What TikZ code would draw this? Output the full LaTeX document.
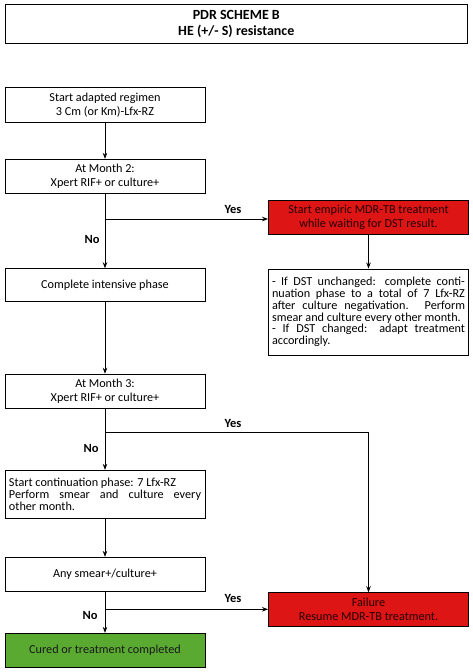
\documentclass[tikz,border=0pt]{standalone}
\usepackage{fontspec}
\setmainfont{Carlito}
\usetikzlibrary{arrows.meta,calc}
\definecolor{redbox}{RGB}{221,21,21}
\definecolor{greenbox}{RGB}{90,170,50}
\tikzset{
  box/.style={draw=black, line width=0.9pt, minimum width=200, inner sep=0pt, align=center, font=\fontsize{12.2}{14}\selectfont},
  redb/.style={box, fill=redbox, text=black!85!red},
  greenb/.style={box, fill=greenbox, text=black!90},
  arr/.style={line width=0.8pt, -{Stealth[length=6pt,width=4.5pt]}},
  lbl/.style={font=\fontsize{12.5}{14}\selectfont\bfseries, inner sep=0pt}
}
\begin{document}
\begin{tikzpicture}[x=1pt,y=-1pt]
\useasboundingbox[fill=white] (0,0) rectangle (473,672);
\node[box, minimum width=462.7, minimum height=39, font=\fontsize{14}{15.5}\selectfont\bfseries] (title) at (236.3,23.8) {PDR SCHEME B\\HE (+/- S) resistance};
\node[box, minimum height=35] (b1) at (105,104.8) {Start adapted regimen\\3 Cm (or Km)-Lfx-RZ};
\node[box, minimum height=34] (b2) at (105,176.3) {At Month 2:\\Xpert RIF+ or culture+};
\node[box, minimum height=33] (b3) at (105,285.2) {Complete intensive phase};
\node[box, minimum height=34] (b4) at (105,391.2) {At Month 3:\\Xpert RIF+ or culture+};
\node[box, minimum height=48, text width=192, align=justify, font=\fontsize{12.2}{12.3}\selectfont] (b5) at (105,494.3) {Start continuation phase: 7 Lfx-RZ\newline Perform smear and culture every\linebreak other month.};
\node[box, minimum height=34] (b6) at (105,574.3) {Any smear+/culture+};
\node[greenb, minimum height=34] (b7) at (105,650.3) {Cured or treatment completed};
\node[redb, minimum height=33.3] (r1) at (368.5,217.3) {Start empiric MDR-TB treatment\\while waiting for DST result.};
\node[box, minimum height=86, text width=193, align=justify, font=\fontsize{12.2}{11.7}\selectfont] (t1) at (368.5,312) {- If DST unchanged: complete conti-\linebreak nuation phase to a total of 7 Lfx-RZ\linebreak after culture negativation. Perform\linebreak smear and culture every other month.\newline - If DST changed: adapt treatment\linebreak accordingly.};
\node[redb, minimum height=33.6] (fail) at (368.5,609.5) {Failure\\Resume MDR-TB treatment.};
\coordinate (j1) at (105,219);
\coordinate (j2) at (105,432.3);
\coordinate (j3) at (105,609.3);
\draw[arr] (b1) -- (b2);
\draw[arr] (b2) -- (b3);
\draw[arr] (j1) -- (j1 -| r1.west);
\draw[arr] (r1) -- (t1);
\draw[arr] (b3) -- (b4);
\draw[arr] (b4) -- (b5);
\draw[arr] (j2) -| (fail.north);
\draw[arr] (b5) -- (b6);
\draw[arr] (b6) -- (b7);
\draw[arr] (j3) -- (j3 -| fail.west);
\node[lbl] (y1) at (233,209) {Yes};
\node[lbl] (n1) at (92,239.5) {No};
\node[lbl] (y2) at (233,423) {Yes};
\node[lbl] (n2) at (91,448) {No};
\node[lbl] (y3) at (233,598.5) {Yes};
\node[lbl] (n3) at (90,615.5) {No};
\end{tikzpicture}
\end{document}
